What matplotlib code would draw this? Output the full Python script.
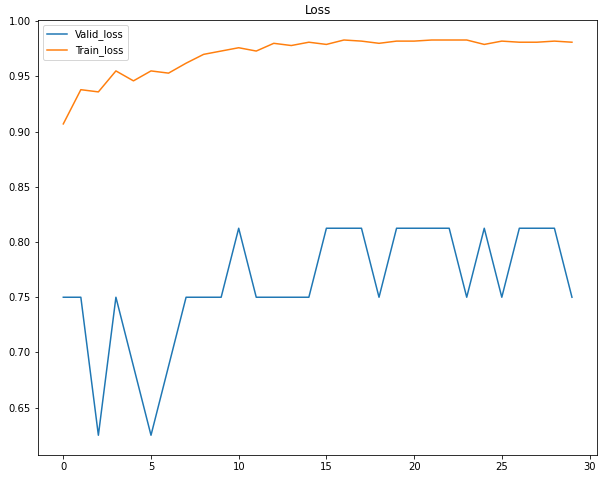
import matplotlib
matplotlib.use("Agg")
import matplotlib.pyplot as plt

epochs = list(range(30))
valid_loss = [0.75,0.75,0.625,0.75,0.6875,0.625,0.6875,0.75,0.75,0.75,0.8125,0.75,0.75,0.75,0.75,
              0.8125,0.8125,0.8125,0.75,0.8125,0.8125,0.8125,0.8125,0.75,0.8125,0.75,0.8125,0.8125,0.8125,0.75]
train_loss = [0.907,0.938,0.936,0.955,0.946,0.955,0.953,0.962,0.970,0.973,0.976,0.973,0.980,0.978,0.981,
              0.979,0.983,0.982,0.980,0.982,0.982,0.983,0.983,0.983,0.979,0.982,0.981,0.981,0.982,0.981]

fig = plt.figure(figsize=(601/72, 482/72), dpi=72)
ax = fig.add_axes([0.063, 0.056, 0.931, 0.902])
ax.plot(epochs, valid_loss, label="Valid_loss")
ax.plot(epochs, train_loss, label="Train_loss")
ax.set_title("Loss")
ax.legend(loc="upper left")
fig.savefig("out.png", dpi=72)
